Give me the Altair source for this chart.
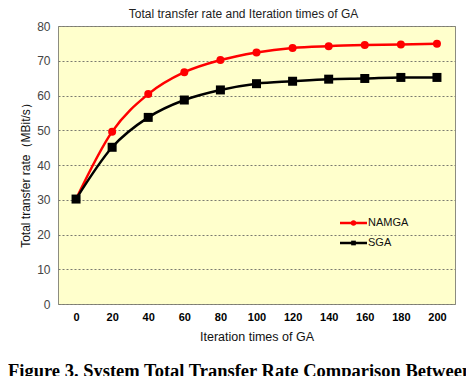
import altair as alt
import pandas as pd

iterations = [0, 20, 40, 60, 80, 100, 120, 140, 160, 180, 200]
namga = [30.2, 49.6, 60.4, 66.7, 70.2, 72.4, 73.7, 74.2, 74.5, 74.7, 74.9]
sga = [30.2, 45.1, 53.7, 58.7, 61.6, 63.4, 64.1, 64.7, 64.9, 65.2, 65.2]
series_names = ["NAMGA", "SGA"]
series_colors = ["#FF0000", "#000000"]
y_ticks = [0, 10, 20, 30, 40, 50, 60, 70, 80]

df = pd.DataFrame({
    "iter": iterations * 2,
    "rate": namga + sga,
    "series": [series_names[0]] * len(iterations) + [series_names[1]] * len(iterations),
})

FONT = "Liberation Sans"

x_enc = alt.X("iter:Q",
              scale=alt.Scale(domain=[-10, 210], nice=False, zero=False),
              axis=alt.Axis(values=iterations, grid=False, ticks=False, domain=False,
                            labelOverlap=False, labelFlush=False,
                            labelFont=FONT, labelFontWeight="bold", labelFontSize=11,
                            labelColor="#000000", labelPadding=7,
                            title="Iteration times of GA", titleFont=FONT,
                            titleFontSize=12.5, titleFontWeight="normal",
                            titleColor="#111111", titlePadding=8))
y_enc = alt.Y("rate:Q",
              scale=alt.Scale(domain=[0, 80], nice=False),
              axis=alt.Axis(values=y_ticks, grid=True, gridDash=[2, 2],
                            gridColor="#7a7a70", gridWidth=1, ticks=False, domain=False,
                            labelOverlap=False, labelFlush=False,
                            labelFont=FONT, labelFontSize=12, labelColor="#444444",
                            labelPadding=8,
                            title="Total transfer rate（MBit/s）", titleFont=FONT,
                            titleFontSize=12, titleFontWeight="normal",
                            titleColor="#111111", titlePadding=4, titleY=146))

color_scale = alt.Scale(domain=series_names, range=series_colors)
color_enc = alt.Color("series:N", scale=color_scale, legend=None)

base = alt.Chart(df)

lines = base.mark_line(strokeWidth=2.5, interpolate="monotone").encode(
    x=x_enc, y=y_enc, color=color_enc)

red_pts = base.transform_filter(alt.datum.series == series_names[0]).mark_point(
    shape="circle", filled=True, size=64, opacity=1).encode(
    x=x_enc, y=y_enc, color=color_enc)

black_pts = base.transform_filter(alt.datum.series == series_names[1]).mark_point(
    shape="square", filled=True, size=81, opacity=1).encode(
    x=x_enc, y=y_enc, color=color_enc)

one = alt.Chart(pd.DataFrame({"a": [0]}))

legend_layers = []
shapes = ["circle", "square"]
sizes = [28, 22]
for i, name in enumerate(series_names):
    yy = 197 + 20 * i
    legend_layers.append(one.mark_rule(strokeWidth=2.5, color=series_colors[i]).encode(
        x=alt.value(282), x2=alt.value(309), y=alt.value(yy)))
    legend_layers.append(one.mark_point(shape=shapes[i], filled=True, size=sizes[i],
                                        opacity=1, color=series_colors[i]).encode(
        x=alt.value(295.5), y=alt.value(yy)))
    legend_layers.append(one.mark_text(align="left", baseline="middle", font=FONT,
                                       fontSize=11, color="#111111").encode(
        x=alt.value(310), y=alt.value(yy), text=alt.value(name)))

caption = one.mark_text(align="left", baseline="alphabetic", font="Liberation Serif",
                        fontSize=18.5, fontWeight="bold", color="#000000").encode(
    x=alt.value(-50), y=alt.value(351),
    text=alt.value("Figure 3. System Total Transfer Rate Comparison Between"))

chart = alt.layer(lines, red_pts, black_pts, *legend_layers, caption).properties(
    width=397, height=278,
    title=alt.TitleParams("Total transfer rate and Iteration times of GA",
                          font=FONT, fontSize=12, fontWeight="normal",
                          color="#222222", anchor="middle", dx=-13, offset=-1),
    autosize=alt.AutoSizeParams(type="none"),
    padding={"left": 50, "top": 18, "right": 11, "bottom": 72},
).configure_view(
    fill="#FFFFCC", stroke="#8c8c80", strokeWidth=1
).configure_axis(
    labelOverlap=False
)

chart.save("out.html", embed_options={"renderer": "svg", "actions": False})
